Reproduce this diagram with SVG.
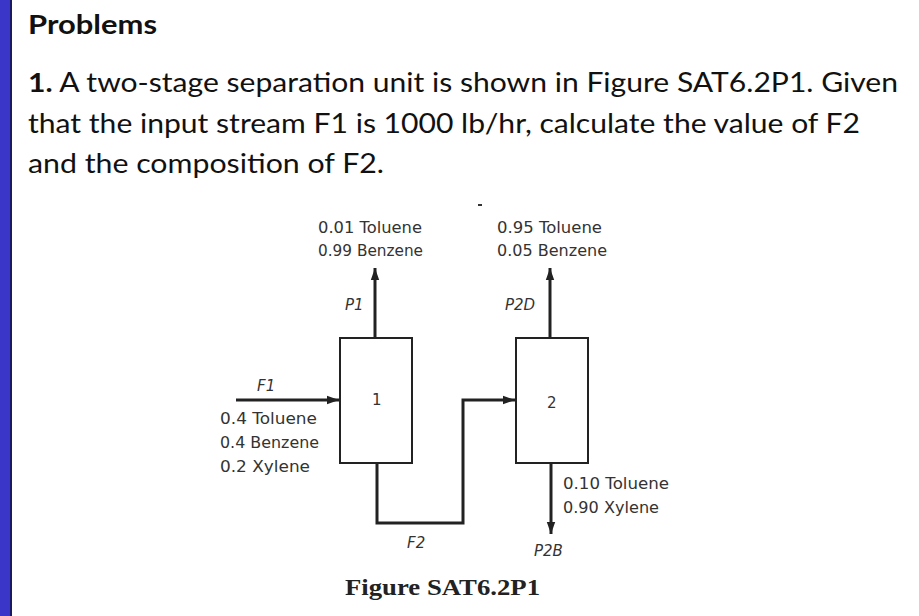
<svg xmlns="http://www.w3.org/2000/svg" width="919" height="616" viewBox="0 0 919 616">
<defs>
<marker id="ah" viewBox="0 0 10 10" refX="10" refY="5" markerWidth="12" markerHeight="12" markerUnits="userSpaceOnUse" orient="auto"><path d="M0,1.5 L10,5 L0,8.5 z" fill="#222"/></marker>
<style>
.h{font-family:Lato,"Open Sans",sans-serif;font-size:27px;fill:#111}
.d{font-family:"DejaVu Sans",sans-serif;font-size:15px;fill:#333}
.i{font-family:"DejaVu Sans",sans-serif;font-size:15px;fill:#333;font-style:italic}
.box{fill:#fff;stroke:#222;stroke-width:2}
.ln{fill:none;stroke:#222;stroke-width:3}
</style>
</defs>
<rect width="919" height="616" fill="#fff"/>
<rect x="0" y="0" width="10" height="616" fill="#3a36c8"/>
<rect x="10" y="0" width="2" height="616" fill="#1a1a60"/>
<text class="h" x="28" y="34" font-weight="bold" textLength="129" lengthAdjust="spacingAndGlyphs">Problems</text>
<text class="h" x="28" y="92" textLength="870" lengthAdjust="spacingAndGlyphs"><tspan font-weight="bold">1.</tspan> A two-stage separation unit is shown in Figure SAT6.2P1. Given</text>
<text class="h" x="28" y="133" textLength="832" lengthAdjust="spacingAndGlyphs">that the input stream F1 is 1000 lb/hr, calculate the value of F2</text>
<text class="h" x="28" y="173" textLength="356" lengthAdjust="spacingAndGlyphs">and the composition of F2.</text>
<g id="connectors">
<line class="ln" x1="375" y1="338" x2="375" y2="268" marker-end="url(#ah)"/>
<line class="ln" x1="550" y1="338" x2="550" y2="268" marker-end="url(#ah)"/>
<line class="ln" x1="236" y1="400" x2="339" y2="400" marker-end="url(#ah)"/>
<polyline class="ln" points="377,463 377,523 463,523 463,400 515,400" marker-end="url(#ah)"/>
<line class="ln" x1="551" y1="463" x2="551" y2="534" marker-end="url(#ah)"/>
</g>
<g id="unit1"><rect class="box" x="340" y="338" width="72" height="125"/><text class="d" x="372" y="405">1</text></g>
<g id="unit2"><rect class="box" x="516" y="338" width="72" height="125"/><text class="d" x="547" y="408">2</text></g>
<g id="labels">
<text class="d" x="318" y="233" textLength="104" lengthAdjust="spacingAndGlyphs">0.01 Toluene</text>
<text class="d" x="318" y="256" textLength="105" lengthAdjust="spacingAndGlyphs">0.99 Benzene</text>
<text class="d" x="497" y="233" textLength="105" lengthAdjust="spacingAndGlyphs">0.95 Toluene</text>
<text class="d" x="497" y="256" textLength="110" lengthAdjust="spacingAndGlyphs">0.05 Benzene</text>
<text class="i" x="345" y="310">P1</text>
<text class="i" x="505" y="310">P2D</text>
<text class="i" x="257" y="391">F1</text>
<text class="d" x="220" y="424" textLength="97" lengthAdjust="spacingAndGlyphs">0.4 Toluene</text>
<text class="d" x="220" y="448" textLength="99" lengthAdjust="spacingAndGlyphs">0.4 Benzene</text>
<text class="d" x="220" y="472" textLength="90" lengthAdjust="spacingAndGlyphs">0.2 Xylene</text>
<text class="d" x="563" y="489" textLength="106" lengthAdjust="spacingAndGlyphs">0.10 Toluene</text>
<text class="d" x="563" y="513" textLength="96" lengthAdjust="spacingAndGlyphs">0.90 Xylene</text>
<text class="i" x="407" y="548">F2</text>
<text class="i" x="534" y="556">P2B</text>
<line x1="478" y1="205" x2="482" y2="205" stroke="#333" stroke-width="2"/>
</g>
<text x="345" y="595" font-family="Liberation Serif,serif" font-weight="bold" font-size="23" fill="#222" textLength="195" lengthAdjust="spacingAndGlyphs">Figure SAT6.2P1</text>
</svg>
